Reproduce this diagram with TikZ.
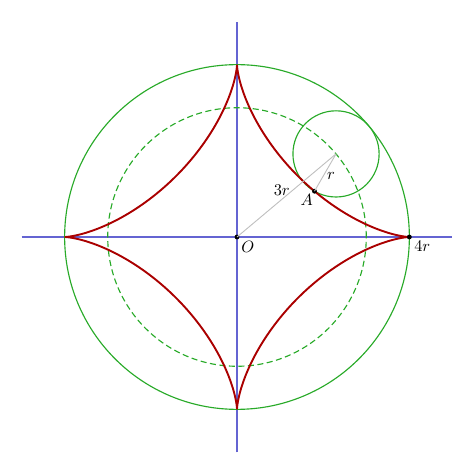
\documentclass[tikz,border=0pt]{standalone}
\usepackage{tikz}
\usetikzlibrary{calc}
\definecolor{axisblue}{RGB}{100,100,210}
\definecolor{circgreen}{RGB}{40,170,40}
\definecolor{astred}{RGB}{170,0,0}
\begin{document}
\begin{tikzpicture}[
  axis/.style={axisblue, line width=1pt},
  circ/.style={circgreen, line width=0.75pt},
  guide/.style={black!25, line width=0.6pt},
  dot/.style={circle, fill=black, inner sep=0pt, minimum size=3.2pt},
  lbl/.style={inner sep=0pt, scale=1.08}
]
\useasboundingbox (-5.5,-5.5) rectangle (5.5,5.5);
\coordinate (xl) at (-5,0);
\coordinate (xr) at (5,0);
\coordinate (yb) at (0,-5);
\coordinate (yt) at (0,5);
\draw[axis] (xl) -- (xr);
\draw[axis] (yb) -- (yt);
\draw[circ] (0,0) circle (4);
\draw[circ, dash pattern=on 4pt off 2.3pt] (0,0) circle (3);
\coordinate (C) at (40:3);
\draw[circ] (C) circle (1);
\draw[astred, line width=1.25pt, line join=miter, domain=0:360, samples=361, smooth, variable=\t]
  plot ({4*cos(\t)^3}, {4*sin(\t)^3}) -- cycle;
\node[dot] (O) at (0,0) {};
\node[dot] (A) at ({3*cos(40)+cos(120)}, {3*sin(40)-sin(120)}) {};
\node[dot] (P) at (4,0) {};
\draw[guide] (O.center) -- (C);
\draw[guide] (C) -- (A.center);
\node[lbl] (Ol) at ($(O.center)+(0.25,-0.23)$) {$O$};
\node[lbl] (Al) at ($(A.center)+(-0.18,-0.2)$) {$A$};
\node[lbl] (Pl) at ($(P.center)+(0.3,-0.22)$) {$4r$};
\node[lbl] (t3r) at (1.04,1.09) {$3r$};
\node[lbl] (tr) at (2.18,1.41) {$r$};
\end{tikzpicture}
\end{document}
